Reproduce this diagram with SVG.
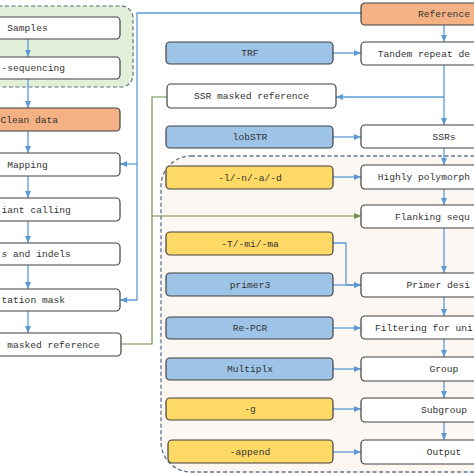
<svg xmlns="http://www.w3.org/2000/svg" width="474" height="474" viewBox="0 0 474 474">
<defs>
<marker id="ab" markerWidth="7" markerHeight="6" refX="7" refY="3" orient="auto" markerUnits="userSpaceOnUse"><path d="M0,0 L7,3 L0,6 z" fill="#5B9BD5"/></marker>
<marker id="ag" markerWidth="7" markerHeight="6" refX="7" refY="3" orient="auto" markerUnits="userSpaceOnUse"><path d="M0,0 L7,3 L0,6 z" fill="#6F8F4E"/></marker>
<style>
.b{stroke:#404040;stroke-width:1.2;fill:#fff}
.o{fill:#F4B183}
.u{fill:#9DC3E6}
.y{fill:#FFD966}
text{font-family:"Liberation Mono","DejaVu Sans Mono",monospace;font-size:9.6px;fill:#333;text-anchor:middle}
text.s{text-anchor:start}
.c{fill:none;stroke:#5B9BD5;stroke-width:1.3}
.g{fill:none;stroke:#6F8F4E;stroke-width:1.2}
</style>
</defs>
<rect width="474" height="474" fill="#fff"/>
<rect id="grpA" x="-20" y="6" width="153" height="81" rx="12" fill="#E2EFD9" stroke="#5F6F80" stroke-width="1.2" stroke-dasharray="4 2.5"/>
<rect id="grpB" x="161" y="156" width="345" height="316" rx="30" fill="#FCF7F2" stroke="#5F7590" stroke-width="1.3" stroke-dasharray="4 2.5"/>

<g id="connectors">
<line class="c" x1="28" y1="39" x2="28" y2="57" marker-end="url(#ab)"/>
<line class="c" x1="28" y1="79" x2="28" y2="108" marker-end="url(#ab)"/>
<line class="c" x1="28" y1="131" x2="28" y2="153" marker-end="url(#ab)"/>
<line class="c" x1="28" y1="176" x2="28" y2="198" marker-end="url(#ab)"/>
<line class="c" x1="28" y1="221" x2="28" y2="243" marker-end="url(#ab)"/>
<line class="c" x1="28" y1="265" x2="28" y2="289" marker-end="url(#ab)"/>
<line class="c" x1="28" y1="311" x2="28" y2="333" marker-end="url(#ab)"/>
<polyline class="c" points="361,13 137,13 137,300 120,300" marker-end="url(#ab)"/>
<line class="c" x1="137" y1="164" x2="120" y2="164" marker-end="url(#ab)"/>
<polyline class="g" points="167,97 152,97 152,344 121,344"/>
<line class="g" x1="152" y1="216" x2="361" y2="216" marker-end="url(#ag)"/>
<line class="c" x1="444" y1="25" x2="444" y2="42" marker-end="url(#ab)"/>
<line class="c" x1="333" y1="53" x2="361" y2="53" marker-end="url(#ab)"/>
<line class="c" x1="444" y1="65" x2="444" y2="125" marker-end="url(#ab)"/>
<polyline class="c" points="444,97 336,97" marker-end="url(#ab)"/>
<line class="c" x1="333" y1="137" x2="361" y2="137" marker-end="url(#ab)"/>
<line class="c" x1="444" y1="148" x2="444" y2="165" marker-end="url(#ab)"/>
<line class="c" x1="333" y1="177" x2="361" y2="177" marker-end="url(#ab)"/>
<line class="c" x1="444" y1="189" x2="444" y2="205" marker-end="url(#ab)"/>
<line class="c" x1="444" y1="228" x2="444" y2="273" marker-end="url(#ab)"/>
<polyline class="c" points="333,243 346,243 346,285 361,285" marker-end="url(#ab)"/>
<line class="c" x1="333" y1="285" x2="361" y2="285" marker-end="url(#ab)"/>
<line class="c" x1="444" y1="297" x2="444" y2="316" marker-end="url(#ab)"/>
<line class="c" x1="333" y1="328" x2="361" y2="328" marker-end="url(#ab)"/>
<line class="c" x1="444" y1="339" x2="444" y2="357" marker-end="url(#ab)"/>
<line class="c" x1="333" y1="369" x2="361" y2="369" marker-end="url(#ab)"/>
<line class="c" x1="444" y1="381" x2="444" y2="398" marker-end="url(#ab)"/>
<line class="c" x1="333" y1="409" x2="361" y2="409" marker-end="url(#ab)"/>
<line class="c" x1="444" y1="422" x2="444" y2="440" marker-end="url(#ab)"/>
<line class="c" x1="333" y1="452" x2="361" y2="452" marker-end="url(#ab)"/>
</g>

<g id="samples"><rect class="b" x="-65" y="17" width="185" height="22" rx="4"/><text x="27.5" y="31.3">Samples</text></g>
<g id="reseq"><rect class="b" x="-65" y="57" width="185" height="22" rx="4"/><text class="s" x="1.6" y="71.3">-sequencing</text></g>
<g id="clean"><rect class="b o" x="-65" y="108" width="185" height="23" rx="4"/><text class="s" x="0.5" y="122.8">Clean data</text></g>
<g id="mapping"><rect class="b" x="-65" y="153" width="185" height="23" rx="4"/><text x="27.5" y="167.8">Mapping</text></g>
<g id="variant"><rect class="b" x="-65" y="198" width="185" height="23" rx="4"/><text class="s" x="1.6" y="212.8">iant calling</text></g>
<g id="snps"><rect class="b" x="-65" y="243" width="185" height="22" rx="4"/><text class="s" x="1.6" y="257.3">s and indels</text></g>
<g id="mutmask"><rect class="b" x="-65" y="289" width="185" height="22" rx="4"/><text class="s" x="1.6" y="303.3">tation mask</text></g>
<g id="mutref"><rect class="b" x="-65" y="333" width="186" height="23" rx="4"/><text class="s" x="7.3" y="347.8">masked reference</text></g>

<g id="trf"><rect class="b u" x="166" y="42" width="167" height="22" rx="4"/><text x="250" y="56.3">TRF</text></g>
<g id="ssrmask"><rect class="b" x="167" y="84" width="169" height="24" rx="4"/><text x="251.5" y="99.3">SSR masked reference</text></g>
<g id="lobstr"><rect class="b u" x="166" y="126" width="167" height="22" rx="4"/><text x="250" y="140.3">lobSTR</text></g>
<g id="lnad"><rect class="b y" x="166" y="166" width="167" height="23" rx="4"/><text x="250" y="180.8">-l/-n/-a/-d</text></g>
<g id="tmima"><rect class="b y" x="166" y="232" width="167" height="23" rx="4"/><text x="250" y="246.8">-T/-mi/-ma</text></g>
<g id="primer3"><rect class="b u" x="166" y="273" width="167" height="23" rx="4"/><text x="250" y="287.8">primer3</text></g>
<g id="repcr"><rect class="b u" x="166" y="317" width="167" height="22" rx="4"/><text x="250" y="331.3">Re-PCR</text></g>
<g id="multiplx"><rect class="b u" x="166" y="358" width="167" height="22" rx="4"/><text x="250" y="372.3">Multiplx</text></g>
<g id="g"><rect class="b y" x="166" y="398" width="167" height="22" rx="4"/><text x="250" y="412.3">-g</text></g>
<g id="append"><rect class="b y" x="168" y="440" width="165" height="23" rx="4"/><text x="250" y="454.8">-append</text></g>

<g id="reference"><rect class="b o" x="361" y="3" width="170" height="22" rx="4"/><text x="444" y="17.3">Reference</text></g>
<g id="tandem"><rect class="b" x="361" y="42" width="170" height="23" rx="4"/><text class="s" x="377.8" y="56.8">Tandem repeat de</text></g>
<g id="ssrs"><rect class="b" x="361" y="125" width="170" height="23" rx="4"/><text x="444" y="139.8">SSRs</text></g>
<g id="highly"><rect class="b" x="361" y="165" width="170" height="24" rx="4"/><text class="s" x="377.8" y="180.3">Highly polymorph</text></g>
<g id="flanking"><rect class="b" x="361" y="205" width="170" height="23" rx="4"/><text class="s" x="395" y="219.8">Flanking sequ</text></g>
<g id="primer"><rect class="b" x="361" y="273" width="170" height="24" rx="4"/><text class="s" x="406.6" y="288.3">Primer desi</text></g>
<g id="filtering"><rect class="b" x="361" y="316" width="170" height="23" rx="4"/><text class="s" x="374.9" y="330.8">Filtering for uni</text></g>
<g id="group"><rect class="b" x="361" y="357" width="170" height="24" rx="4"/><text x="444" y="372.3">Group</text></g>
<g id="subgroup"><rect class="b" x="361" y="398" width="170" height="24" rx="4"/><text x="444" y="413.3">Subgroup</text></g>
<g id="output"><rect class="b" x="361" y="440" width="170" height="24" rx="4"/><text x="444" y="455.3">Output</text></g>
</svg>
